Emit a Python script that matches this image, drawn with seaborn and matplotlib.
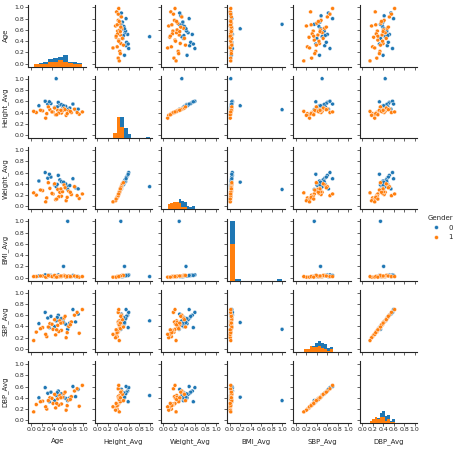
import matplotlib
matplotlib.use("Agg")
import matplotlib.pyplot as plt
import seaborn as sns
import pandas as pd
import numpy as np

cols = ["Age", "Height_Avg", "Weight_Avg", "BMI_Avg", "SBP_Avg", "DBP_Avg"]

age0 = [0.15,0.32,0.45,0.52,0.61,0.70,0.38,0.85,0.27,0.55,0.66,0.48,0.74,0.70,0.58,0.90,0.35,0.62,0.50,0.80]
height0 = [0.52,0.55,0.49,0.58,0.50,0.47,0.56,0.45,0.60,0.53,0.51,1.00,0.48,0.45,0.54,0.46,0.59,0.52,0.50,0.55]
weight0 = [0.45,0.50,0.38,0.55,0.42,0.36,0.52,0.33,0.60,0.47,0.40,0.35,0.37,0.30,0.44,0.31,0.57,0.43,0.39,0.49]
bmi0 = [0.03,0.04,0.02,0.05,0.03,0.02,0.04,0.02,0.05,0.03,0.03,0.02,0.02,1.00,0.03,0.02,0.04,0.20,0.03,0.04]
sbp0 = [0.45,0.55,0.40,0.60,0.50,0.42,0.58,0.48,0.65,0.52,0.44,0.50,0.46,0.35,0.54,0.62,0.38,0.47,0.56,0.70]
dbp0 = [0.40,0.48,0.35,0.52,0.45,0.38,0.50,0.42,0.58,0.46,0.39,0.44,0.40,0.35,0.47,0.55,0.33,0.41,0.49,0.60]

age1 = [0.10,0.22,0.30,0.36,0.42,0.47,0.51,0.55,0.58,0.63,0.67,0.72,0.77,0.83,0.92,0.05,0.18,0.28,0.40,0.45,0.53,0.60,0.65,0.69,0.75,0.88,0.33,0.49,0.57,0.98]
height1 = [0.40,0.43,0.38,0.45,0.41,0.36,0.44,0.42,0.39,0.47,0.35,0.43,0.40,0.46,0.37,0.42,0.44,0.30,0.41,0.48,0.39,0.43,0.45,0.38,0.42,0.40,0.50,0.36,0.44,0.41]
weight1 = [0.20,0.28,0.15,0.32,0.22,0.12,0.30,0.25,0.18,0.38,0.10,0.27,0.21,0.35,0.14,0.24,0.29,0.08,0.23,0.40,0.17,0.26,0.33,0.16,0.25,0.19,0.42,0.13,0.31,0.22]
bmi1 = [0.02,0.03,0.01,0.03,0.02,0.01,0.03,0.02,0.02,0.04,0.01,0.03,0.02,0.03,0.01,0.02,0.03,0.01,0.02,0.04,0.02,0.03,0.03,0.02,0.02,0.02,0.04,0.01,0.03,0.02]
sbp1 = [0.30,0.38,0.22,0.45,0.35,0.25,0.42,0.50,0.33,0.55,0.20,0.40,0.48,0.60,0.28,0.15,0.36,0.26,0.44,0.52,0.31,0.47,0.58,0.29,0.43,0.65,0.39,0.34,0.46,0.70]
dbp1 = [0.28,0.34,0.20,0.40,0.30,0.22,0.38,0.44,0.29,0.48,0.18,0.36,0.42,0.52,0.25,0.15,0.33,0.24,0.39,0.46,0.27,0.41,0.50,0.26,0.37,0.56,0.35,0.30,0.40,0.62]

df = pd.DataFrame({
    "Age": age0 + age1,
    "Height_Avg": height0 + height1,
    "Weight_Avg": weight0 + weight1,
    "BMI_Avg": bmi0 + bmi1,
    "SBP_Avg": sbp0 + sbp1,
    "DBP_Avg": dbp0 + dbp1,
    "Gender": [0] * len(age0) + [1] * len(age1),
})

sns.set_style("ticks")
plt.rcParams.update({"font.size": 5, "axes.labelsize": 5, "xtick.labelsize": 4.5,
                     "ytick.labelsize": 4.5, "legend.fontsize": 5})
g = sns.pairplot(df, vars=cols, hue="Gender", diag_kind="hist", height=0.72,
                 plot_kws=dict(s=8, edgecolor="white", linewidth=0.3),
                 diag_kws=dict(multiple="stack", bins=10, alpha=1, edgecolor="none"))
ticks = [0.0, 0.2, 0.4, 0.6, 0.8, 1.0]
for ax in g.axes.flat:
    ax.set_xlim(-0.05, 1.05)
    ax.set_xticks(ticks)
    ax.tick_params(length=2, width=0.5, pad=1)
for i, row in enumerate(g.axes):
    for j, ax in enumerate(row):
        if i != j:
            ax.set_ylim(-0.05, 1.05)
            ax.set_yticks(ticks)
g.fig.set_size_inches(4.74, 4.55)
g.fig.subplots_adjust(left=0.06, right=0.88, bottom=0.07, top=0.99, wspace=0.15, hspace=0.15)
sns.move_legend(g, "center right", bbox_to_anchor=(0.97, 0.5), frameon=False)
g.fig.savefig("out.png", dpi=100)
